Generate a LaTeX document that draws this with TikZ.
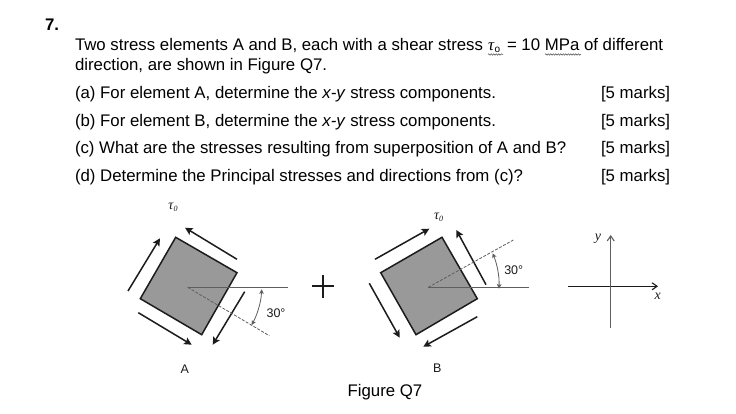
\documentclass[tikz,border=0pt]{standalone}
\usepackage{fontspec}
\setmainfont{Liberation Sans}
\newfontfamily\serifit[Scale=1]{Liberation Serif}
\usetikzlibrary{arrows.meta,decorations.pathmorphing}
\definecolor{ink}{HTML}{1C1C1C}
\definecolor{soft}{HTML}{5E5E5E}
\tikzset{
  x=1pt,y=-1pt,
  qtext/.style={anchor=base west,inner sep=0pt,outer sep=0pt,font=\fontsize{16.8}{19}\selectfont,text=black},
  elem/.style={draw=ink,fill=black!40,line width=1.5pt,line join=miter},
  shear/.style={draw=ink,line width=1.5pt,-{Stealth[length=7.5pt,width=7.5pt,inset=1.5pt]}},
  refline/.style={draw=soft,line width=1.1pt},
  dashline/.style={draw=soft,line width=.8pt,dash pattern=on 3pt off 1.5pt},
  anglearc/.style={draw=soft,line width=.8pt,{Stealth[length=4.5pt,width=4.5pt,inset=1pt]}-{Stealth[length=4.5pt,width=4.5pt,inset=1pt]}},
  figlabel/.style={inner sep=0pt,font=\fontsize{12.5}{14}\selectfont,text=ink},
  taulabel/.style={inner sep=0pt,font=\fontsize{14}{16}\selectfont\serifit\itshape,text=ink},
  axis/.style={draw=ink,line width=1.1pt},
  squiggle/.style={draw=black!70,line width=.5pt,decorate,decoration={snake,amplitude=.7pt,segment length=2.5pt}}
}
\begin{document}
\begin{tikzpicture}
\useasboundingbox[fill=white] (0,0) rectangle (736,414);
% question text
\node[qtext,font=\fontsize{16.8}{19}\selectfont\bfseries] (num) at (45,31) {7.};
\node[qtext] (l1a) at (75,51) {Two stress elements A and B, each with a shear stress};
\node[qtext] (l1t) at (488,51) {\textit{\serifit τ}\raisebox{-2pt}{\fontsize{10}{11}\selectfont o}};
\node[qtext] (l1b) at (507,51) {= 10 MPa of different};
\draw[squiggle] (488,54.5) -- (503,54.5);
\draw[squiggle] (545,54.5) -- (581,54.5);
\node[qtext] (l2) at (75,70.5) {direction, are shown in Figure Q7.};
\node[qtext] (qa) at (75,98.5) {(a) For element A, determine the \textit{x-y} stress components.};
\node[qtext] (qb) at (75,126.5) {(b) For element B, determine the \textit{x-y} stress components.};
\node[qtext] (qc) at (75,153.5) {(c) What are the stresses resulting from superposition of A and B?};
\node[qtext] (qd) at (75,181.5) {(d) Determine the Principal stresses and directions from (c)?};
\node[qtext] (ma) at (601,98.5) {[5 marks]};
\node[qtext] (mb) at (601,126.5) {[5 marks]};
\node[qtext] (mc) at (601,153.5) {[5 marks]};
\node[qtext] (md) at (601,181.5) {[5 marks]};
% element A
\draw[elem] (175.7,237.3) -- (237,272.7) -- (201.7,334.7) -- (140.3,298.7) -- cycle;
\draw[shear] (237,259.3) -- (185,227.7);
\draw[shear] (128,291) -- (160,238.3);
\draw[shear] (138.3,312.7) -- (191.7,344.7);
\draw[shear] (244.7,291.7) -- (212.7,344.7);
\coordinate (ca) at (187.7,287.3);
\coordinate (ea) at (288.3,287.3);
\coordinate (da) at (269.3,335.7);
\draw[refline] (ca) -- (ea);
\draw[dashline] (ca) -- (da);
\draw[anglearc] (261.7,289.3) .. controls (261,303) and (257,315) .. (251.7,325);
\node[figlabel] (a30) at (276,313.5) {30°};
\node[taulabel] (ta) at (173,207) {τ\raisebox{-2pt}{\fontsize{8}{9}\selectfont 0}};
\node[figlabel] (la) at (184.7,369) {A};
% plus
\coordinate (plusl) at (312,286);
\coordinate (plusr) at (334,286);
\coordinate (plust) at (322.7,275);
\coordinate (plusb) at (322.7,298);
\draw[ink,line width=1.9pt] (plusl) -- (plusr);
\draw[ink,line width=1.9pt] (plust) -- (plusb);
% element B
\draw[elem] (442,237.3) -- (477.3,298.7) -- (416,334.7) -- (380.7,272.7) -- cycle;
\draw[shear] (375,259.3) -- (429.3,228.7);
\draw[shear] (486,284.7) -- (456.3,230);
\draw[shear] (477.3,316.7) -- (423.3,346.7);
\draw[shear] (369.3,283.3) -- (399.7,337.7);
\coordinate (cb) at (428.3,287.3);
\coordinate (eb) at (528.7,287.3);
\coordinate (db) at (513.3,240);
\draw[refline] (cb) -- (eb);
\draw[dashline] (cb) -- (db);
\draw[anglearc] (499,288.7) .. controls (499.5,276) and (497,264) .. (492.7,253.3);
\node[figlabel] (b30) at (513.7,270.5) {30°};
\node[taulabel] (tb) at (438.7,217.7) {τ\raisebox{-2pt}{\fontsize{8}{9}\selectfont 0}};
\node[figlabel] (lb) at (437.3,368.3) {B};
\node[inner sep=0pt,font=\fontsize{16.8}{19}\selectfont] (fig) at (385,392) {Figure Q7};
% axes
\coordinate (xs) at (568.3,286.3);
\coordinate (xe) at (658,286.3);
\coordinate (ys) at (610.7,328.3);
\coordinate (ye) at (610.7,235);
\draw[axis,-{Straight Barb[length=5pt,width=7pt]}] (xs) -- (xe);
\draw[axis,draw=soft,-{Straight Barb[length=5pt,width=7pt]}] (ys) -- (ye);
\node[taulabel] (ly) at (598,239) {y};
\node[taulabel] (lx) at (657.7,296) {x};
\end{tikzpicture}
\end{document}
